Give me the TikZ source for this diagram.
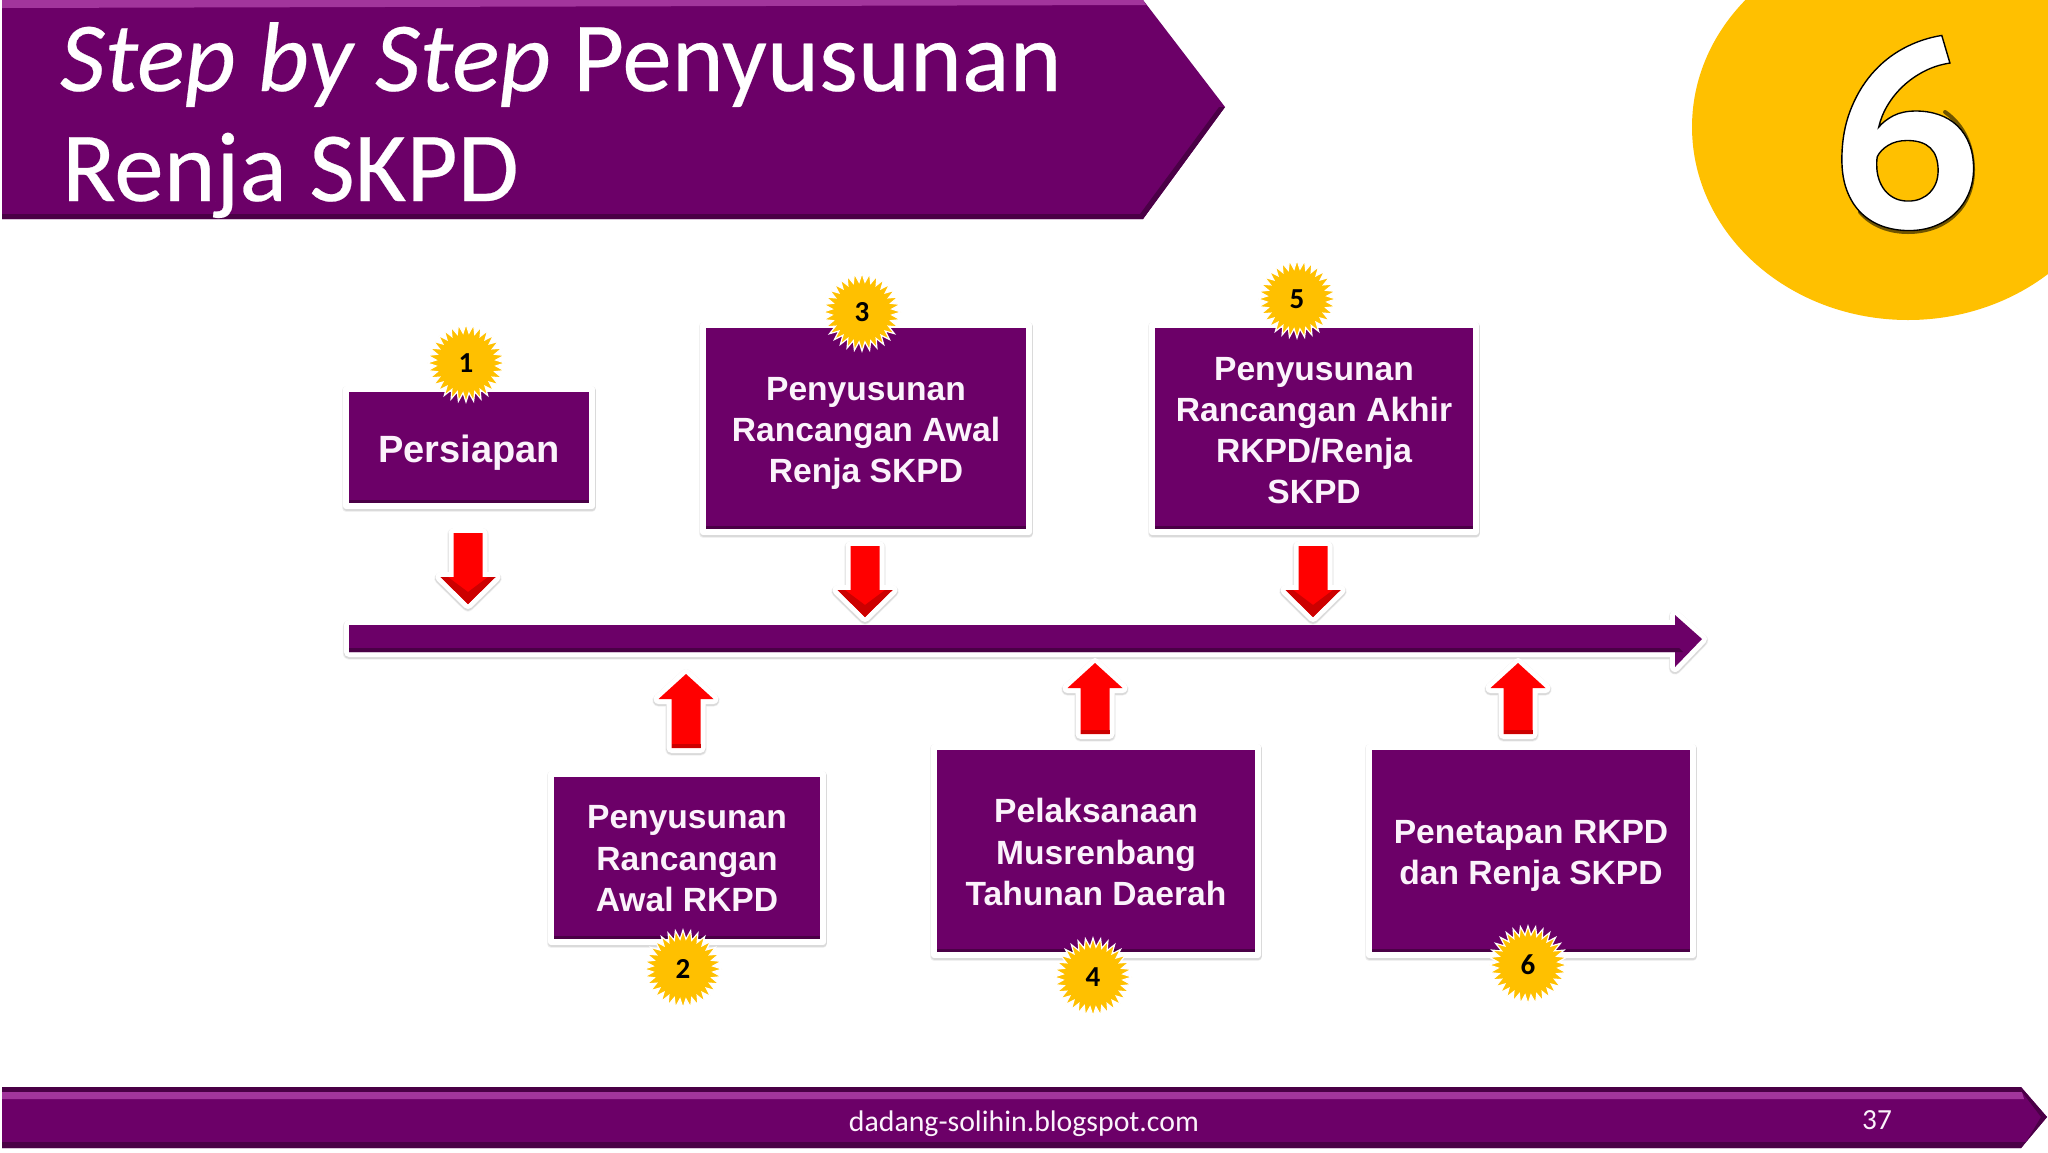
\documentclass[tikz,border=0pt]{standalone}
\usepackage{fontspec}
\setmainfont{Carlito}
\newfontfamily\arialb[Ligatures=TeX]{Liberation Sans}
\newfontfamily\bigsix[FakeBold=0.5]{PT Sans}
\newfontfamily\titlefont[FakeBold=0.25]{Carlito}
\usetikzlibrary{shapes.geometric,shadows}
\definecolor{purp}{HTML}{6C0068}
\definecolor{purpdark}{HTML}{4A0046}
\definecolor{purplight}{HTML}{A2359C}
\definecolor{amber}{HTML}{FFC000}
\definecolor{txtw}{HTML}{FBF3FB}
\definecolor{reddark}{HTML}{CC0000}
\tikzset{
  softshade/.style={
    general shadow={shadow xshift=0pt,shadow yshift=-.7pt,draw=black,fill=none,line join=round,line width=#1+1.2pt,opacity=.06},
    general shadow={shadow xshift=0pt,shadow yshift=-.7pt,draw=black,fill=none,line join=round,line width=#1+.5pt,opacity=.09}},
  stepbox/.style={rectangle,fill=purp,draw=white,line width=3pt,line join=round,inner sep=0pt,softshade=3pt,
    path picture={\fill[purpdark] ([yshift=3pt]path picture bounding box.south west) rectangle (path picture bounding box.south east);}},
  steptext/.style={text=txtw,align=center,inner sep=0pt,font=\arialb\bfseries\fontsize{16.8}{20.6}\selectfont},
  badge/.style={star,star points=32,star point ratio=1.3,fill=amber,draw=white,line width=.6pt,
    inner sep=0pt,minimum size=39pt,text=black,font=\bfseries\fontsize{14.5}{16}\selectfont},
  redfill/.style={fill=red,draw=none},
  outlined/.style={draw=white,fill=white,line width=5pt,line join=round,softshade=5pt},
  titletext/.style={anchor=base west,text=white,font=\titlefont\fontsize{49.6}{55}\selectfont},
  sixshadow/.style={draw=black!70!amber,line cap=round,line join=round},
}
\newcommand{\redshaftdown}[4]{% cx, ytail, ybarb, ytip
  \path[outlined] ({#1-14.5},#2)--({#1+14.5},#2)--({#1+14.5},#3)--({#1+27.5},#3)--(#1,#4)--({#1-27.5},#3)--({#1-14.5},#3)--cycle;
  \path[redfill] ({#1-14.5},#2)--({#1+14.5},#2)--({#1+14.5},#3)--({#1+27.5},#3)--(#1,#4)--({#1-27.5},#3)--({#1-14.5},#3)--cycle;
  \fill[reddark] ({#1-27.5},#3)--(#1,#4)--({#1+27.5},#3)--({#1+20},#3)--(#1,{#4-12})--({#1-20},#3)--cycle;
}
\newcommand{\redshaftup}[4]{% cx, ytail, ybarb, ytip
  \path[outlined] ({#1-14.5},#2)--({#1+14.5},#2)--({#1+14.5},#3)--({#1+27.5},#3)--(#1,#4)--({#1-27.5},#3)--({#1-14.5},#3)--cycle;
  \path[redfill] ({#1-14.5},#2)--({#1+14.5},#2)--({#1+14.5},#3)--({#1+27.5},#3)--(#1,#4)--({#1-27.5},#3)--({#1-14.5},#3)--cycle;
  \fill[reddark] ({#1-14.5},#2)--({#1+14.5},#2)--({#1+14.5},{#2-4})--({#1-14.5},{#2-4})--cycle;
}
\begin{document}
\begin{tikzpicture}[x=0.5pt,y=-0.5pt]
\clip (0,0) rectangle (2048,1152);
\fill[white] (0,0) rectangle (2048,1152);
% title banner
\fill[purp] (2,0)--(1143,0)--(1225,107)--(1143,219)--(2,219)--cycle;
\fill[purplight] (2,0)--(1143,0)--(1146,5)--(2,8)--cycle;
\fill[purpdark] (1143,219)--(1225,107)--(1219,107)--(1140,214)--(2,214)--(2,219)--cycle;
\node[titletext] (title1) at (53,91) {\textit{Step by Step} Penyusunan};
\node[titletext] (title2) at (55,201) {Renja SKPD};
% corner circle
\fill[amber] (1908,127) ellipse [x radius=216,y radius=193];
\draw[sixshadow,opacity=.8,line width=2pt] (1945,112)..controls (1965,126) and (1973,148)..(1973,170)..controls (1973,208) and (1945,232)..(1908,232)..controls (1890,232) and (1872,226)..(1860,212);
\node[inner sep=0pt,xscale=1.05,transform shape,font=\bigsix\bfseries\fontsize{134}{150}\selectfont] (bigsix) at (1907,133) {\special{pdf:bc [1 1 1] [0 0 0]}6\special{pdf:ec}};
% footer
\fill[purp] (2,1087)--(2021,1087)--(2047,1117)--(2021,1148)--(2,1148)--cycle;
\fill[purpdark] (2,1087)--(2021,1087)--(2022,1092)--(2,1092)--cycle;
\fill[purplight] (2,1092)--(2022,1092)--(2024,1099)--(2,1099)--cycle;
\fill[purpdark] (2,1142)--(2026,1142)--(2021,1148)--(2,1148)--cycle;
\fill[purpdark] (2021,1087)--(2047,1117)--(2021,1148)--(2026,1142)--(2041,1117)--(2022,1092)--cycle;
\node[text=txtw,font=\fontsize{14.9}{16}\selectfont] (site) at (1024,1123.5) {dadang-solihin.blogspot.com};
\node[text=txtw,font=\fontsize{14.6}{16}\selectfont] (page) at (1877,1120) {37};
% timeline
\path[outlined] (349,625)--(1675,625)--(1675,615)--(1702,639)--(1675,667)--(1675,652)--(349,652)--cycle;
\fill[purp] (349,625)--(1675,625)--(1675,615)--(1702,639)--(1675,667)--(1675,652)--(349,652)--cycle;
\fill[purpdark] (349,648)--(1679,648)--(1683,652)--(349,652)--cycle;
% red arrows
\redshaftdown{468}{533}{577}{604}
\redshaftdown{865}{546}{590}{617}
\redshaftdown{1313}{546}{590}{617}
\redshaftup{686}{748}{699}{674}
\redshaftup{1095}{734}{688}{663}
\redshaftup{1518}{734}{688}{663}
% boxes
\node[stepbox,minimum width=123pt,minimum height=58.5pt] (b1) at (469,447.5) {};
\node[stepbox,minimum width=163pt,minimum height=103.5pt] (b3) at (866,428.5) {};
\node[stepbox,minimum width=162pt,minimum height=103.5pt] (b5) at (1314,428.5) {};
\node[stepbox,minimum width=136pt,minimum height=84pt] (b2) at (687,858) {};
\node[stepbox,minimum width=162pt,minimum height=104pt] (b4) at (1096,851) {};
\node[stepbox,minimum width=162pt,minimum height=104pt] (b6) at (1531,851) {};
\node[steptext,font=\arialb\bfseries\fontsize{19}{22}\selectfont] (t1) at ([yshift=-2.5pt]b1.center) {Persiapan};
\node[steptext] (t3) at ([yshift=-2.5pt]b3.center) {Penyusunan\\Rancangan Awal\\Renja SKPD};
\node[steptext] (t5) at ([yshift=-1pt]b5.center) {Penyusunan\\Rancangan Akhir\\RKPD/Renja\\SKPD};
\node[steptext] (t2) at ([yshift=-.3pt]b2.center) {Penyusunan\\Rancangan\\Awal RKPD};
\node[steptext] (t4) at ([yshift=-.5pt]b4.center) {Pelaksanaan\\Musrenbang\\Tahunan Daerah};
\node[steptext] (t6) at ([yshift=-2.5pt]b6.center) {Penetapan RKPD\\dan Renja SKPD};
% badges
\node[badge] (s1) at (466,363) {1};
\node[badge] (s2) at (683,969) {2};
\node[badge] (s3) at (862,312) {3};
\node[badge] (s4) at (1093,977) {4};
\node[badge] (s5) at (1297,299) {5};
\node[badge] (s6) at (1528,965) {6};
\end{tikzpicture}
\end{document}
